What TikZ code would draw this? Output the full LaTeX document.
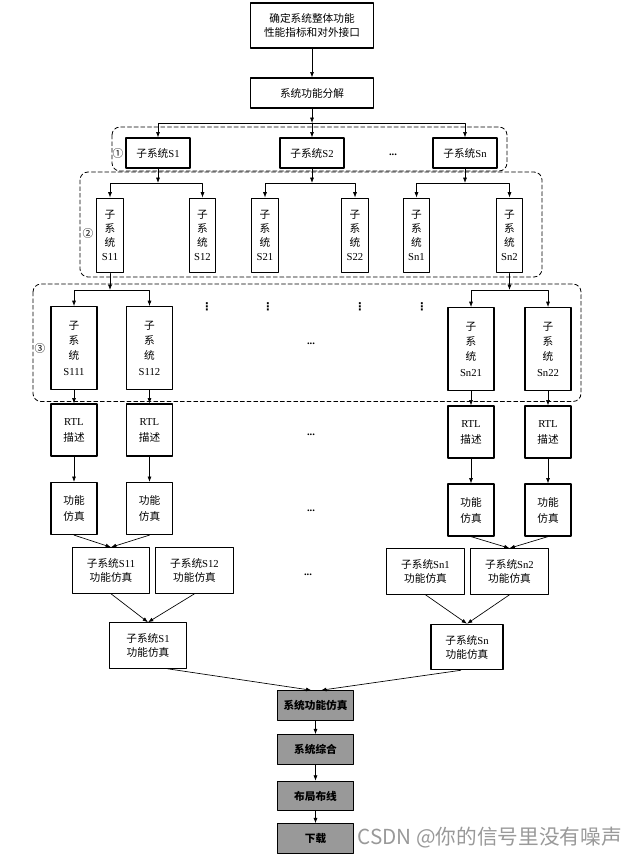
\documentclass[tikz,border=0pt]{standalone}
\usepackage{fontspec}
\setmainfont{Liberation Serif}
\newfontfamily\cjk{Noto Sans CJK SC}
\newfontfamily\sym{DejaVu Sans}
\usetikzlibrary{arrows.meta}
\newcommand{\lat}[1]{{\rmfamily #1}}

\begin{document}
\begin{tikzpicture}[
		x=0.75pt, y=-0.75pt,
		every node/.style={font=\cjk\fontsize{8}{10.5}\selectfont, align=center, inner sep=1pt},
		hbox/.style={draw, line width=0.9pt, minimum height=22.5pt},
		sub one/.style={hbox, minimum width=48pt},
		sub two/.style={draw, line width=0.9pt, minimum width=20pt, minimum height=56pt},
		sub three/.style={draw, line width=0.9pt, minimum width=34.5pt, minimum height=62pt,
			font=\cjk\fontsize{8}{11.5}\selectfont},
		stepbox/.style={draw, line width=0.9pt, minimum width=34.5pt, minimum height=39pt,
			font=\cjk\fontsize{8}{12}\selectfont},
		simbox/.style={draw, line width=0.9pt, minimum width=58pt, minimum height=34pt},
		graybox/.style={draw, line width=0.9pt, fill=gray!80, minimum width=57pt, minimum height=22pt,
			font=\cjk\bfseries\fontsize{8}{10}\selectfont},
		vdot/.style={font=\sym\bfseries\fontsize{8}{8}\selectfont},
		group/.style={draw, line width=0.6pt, dash pattern=on 3pt off 2pt, rounded corners=6pt},
		flow/.style={line width=0.5pt, -{Latex[length=4pt,width=3pt]}},
		line cap=round,
		line join=round
		]
		\useasboundingbox (0,0) rectangle (623,859);
		
		% ---- top ----
		\node[hbox, minimum width=92pt, minimum height=33.75pt] (top) at (312,25.5) {确定系统整体功能\\性能指标和对外接口};
		\node[hbox, minimum width=92pt] (dec) at (312,93) {系统功能分解};
		
		% ---- level 1 ----
		\draw[group] (112,127) rectangle (507,171);
		\node (n1) at (118,153) {①};
		\node[sub one] (s1) at (158,153) {子系统\lat{S1}};
		\node[sub one] (s2) at (312,153) {子系统\lat{S2}};
		\node[sub one] (sn) at (465,153) {子系统\lat{Sn}};
		\node (d1) at (393,155) {\lat{\textbf{...}}};
		
		% ---- level 2 ----
		\draw[group] (80,172) rectangle (542,277);
		\node (n2) at (88,233) {②};
		\node[sub two] (s11) at (110,235.5) {子\\系\\统\\\lat{S11}};
		\node[sub two] (s12) at (202.5,235.5) {子\\系\\统\\\lat{S12}};
		\node[sub two] (s21) at (265,235.5) {子\\系\\统\\\lat{S21}};
		\node[sub two] (s22) at (355,235.5) {子\\系\\统\\\lat{S22}};
		\node[sub two] (sn1) at (416.5,235.5) {子\\系\\统\\\lat{Sn1}};
		\node[sub two] (sn2) at (509.5,235.5) {子\\系\\统\\\lat{Sn2}};
		
		% ---- level 3 ----
		\draw[group] (33,284) rectangle (581,401.5);
		\node (n3) at (40,348) {③};
		\node[sub three] (s111) at (74,348) {子\\系\\统\\\lat{S111}};
		\node[sub three] (s112) at (149.5,348) {子\\系\\统\\\lat{S112}};
		\node[sub three] (sn21) at (471,349) {子\\系\\统\\\lat{Sn21}};
		\node[sub three] (sn22) at (548,349) {子\\系\\统\\\lat{Sn22}};
		\node[vdot] (v1) at (207,307) {⋮};
		\node[vdot] (v2) at (268,307) {⋮};
		\node[vdot] (v3) at (360,307) {⋮};
		\node[vdot] (v4) at (422,307) {⋮};
		\node (d2) at (311,344) {\lat{\textbf{...}}};
		
		% ---- RTL / sim ----
		\node[stepbox] (r1) at (74,430) {\lat{RTL}\\描述};
		\node[stepbox] (r2) at (149.5,430) {\lat{RTL}\\描述};
		\node[stepbox] (r3) at (471,432) {\lat{RTL}\\描述};
		\node[stepbox] (r4) at (548,432) {\lat{RTL}\\描述};
		\node (d3) at (311,435) {\lat{\textbf{...}}};
		
		\node[stepbox] (f1) at (74,508.5) {功能\\仿真};
		\node[stepbox] (f2) at (149.5,508.5) {功能\\仿真};
		\node[stepbox] (f3) at (471,510) {功能\\仿真};
		\node[stepbox] (f4) at (548,510) {功能\\仿真};
		\node (d4) at (311,511) {\lat{\textbf{...}}};
		
		\node[simbox] (c11) at (111,570.5) {子系统\lat{S11}\\功能仿真};
		\node[simbox] (c12) at (194.5,570.5) {子系统\lat{S12}\\功能仿真};
		\node[simbox] (cn1) at (425.5,571.5) {子系统\lat{Sn1}\\功能仿真};
		\node[simbox] (cn2) at (509.5,571.5) {子系统\lat{Sn2}\\功能仿真};
		\node (d5) at (308,575) {\lat{\textbf{...}}};
		
		\node[simbox] (cs1) at (148,645.5) {子系统\lat{S1}\\功能仿真};
		\node[simbox, minimum width=54pt] (csn) at (467,647) {子系统\lat{Sn}\\功能仿真};
		
		% ---- gray steps ----
		\node[graybox] (g1) at (315.5,705.5) {系统功能仿真};
		\node[graybox] (g2) at (315.5,749.5) {系统综合};
		\node[graybox] (g3) at (315.5,796) {布局布线};
		\node[graybox] (g4) at (315.5,838.5) {下载};
		
		\node[anchor=west, text=black!40, font=\cjk\fontsize{15.5}{18}\selectfont] (wm) at (356,838) {CSDN @你的信号里没有噪声};
		
		% ---- branch points ----
		\coordinate (b0) at (312,123);
		\coordinate (b1) at (158,183);
		\coordinate (b2) at (312,183);
		\coordinate (b3) at (465,183);
		\coordinate (b4) at (110,290);
		\coordinate (b5) at (509.5,290);
		
		% ---- connectors ----
		\draw[flow] (top) -- (dec);
		\draw[flow] (dec) -- (b0);
		\draw[flow] (b0) -| (s1);
		\draw[flow] (b0) -- (s2);
		\draw[flow] (b0) -| (sn);
		
		\draw[flow] (s1) -- (b1);
		\draw[flow] (s2) -- (b2);
		\draw[flow] (sn) -- (b3);
		\draw[flow] (b1) -| (s11);
		\draw[flow] (b1) -| (s12);
		\draw[flow] (b2) -| (s21);
		\draw[flow] (b2) -| (s22);
		\draw[flow] (b3) -| (sn1);
		\draw[flow] (b3) -| (sn2);
		
		\draw[flow] (s11) -- (b4);
		\draw[flow] (sn2) -- (b5);
		\draw[flow] (b4) -| (s111);
		\draw[flow] (b4) -| (s112);
		\draw[flow] (b5) -| (sn21);
		\draw[flow] (b5) -| (sn22);
		
		\draw[flow] (s111) -- (r1);
		\draw[flow] (s112) -- (r2);
		\draw[flow] (sn21) -- (r3);
		\draw[flow] (sn22) -- (r4);
		\draw[flow] (r1) -- (f1);
		\draw[flow] (r2) -- (f2);
		\draw[flow] (r3) -- (f3);
		\draw[flow] (r4) -- (f4);
		
		\draw[flow] (f1.south) -- (c11.north);
		\draw[flow] (f2.south) -- (c11.north);
		\draw[flow] (f3.south) -- (cn2.north);
		\draw[flow] (f4.south) -- (cn2.north);
		
		\draw[flow] (c11.south) -- (cs1.north);
		\draw[flow] (c12.south) -- (cs1.north);
		\draw[flow] (cn1.south) -- (csn.north);
		\draw[flow] (cn2.south) -- (csn.north);
		
		\draw[flow] (cs1.-50) -- (g1.105);
		\draw[flow] (csn.-105) -- (g1.70);
		\draw[flow] (g1) -- (g2);
		\draw[flow] (g2) -- (g3);
		\draw[flow] (g3) -- (g4);
	\end{tikzpicture}
\end{document}
